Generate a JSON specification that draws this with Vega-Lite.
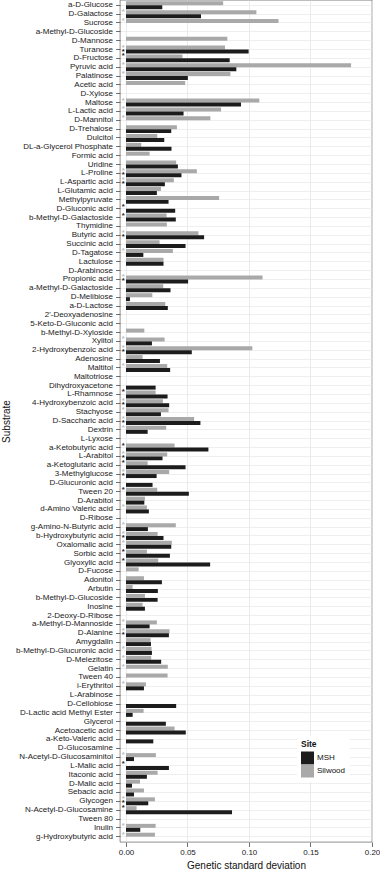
{
  "$schema": "https://vega.github.io/schema/vega-lite/v6.json",
  "width": 252,
  "height": 842,
  "autosize": {"type": "none"},
  "padding": {"left": 120, "top": 0, "right": 8, "bottom": 29},
  "background": "white",
  "config": {"view": {"stroke": "#444444", "strokeWidth": 0.6}, "font": "Liberation Sans"},
  "datasets": {
    "bars": [
      {"Substrate": "a-D-Glucose", "Site": "Silwood", "sd": 0.079},
      {"Substrate": "a-D-Glucose", "Site": "MSH", "sd": 0.0295},
      {"Substrate": "D-Galactose", "Site": "Silwood", "sd": 0.106},
      {"Substrate": "D-Galactose", "Site": "MSH", "sd": 0.061},
      {"Substrate": "Sucrose", "Site": "Silwood", "sd": 0.124},
      {"Substrate": "D-Mannose", "Site": "Silwood", "sd": 0.0824},
      {"Substrate": "Turanose", "Site": "Silwood", "sd": 0.0805},
      {"Substrate": "Turanose", "Site": "MSH", "sd": 0.0997},
      {"Substrate": "D-Fructose", "Site": "Silwood", "sd": 0.0459},
      {"Substrate": "D-Fructose", "Site": "MSH", "sd": 0.0843},
      {"Substrate": "Pyruvic acid", "Site": "Silwood", "sd": 0.183},
      {"Substrate": "Pyruvic acid", "Site": "MSH", "sd": 0.0897},
      {"Substrate": "Palatinose", "Site": "Silwood", "sd": 0.0849},
      {"Substrate": "Palatinose", "Site": "MSH", "sd": 0.0503},
      {"Substrate": "Acetic acid", "Site": "Silwood", "sd": 0.0481},
      {"Substrate": "Maltose", "Site": "Silwood", "sd": 0.1084},
      {"Substrate": "Maltose", "Site": "MSH", "sd": 0.0935},
      {"Substrate": "L-Lactic acid", "Site": "Silwood", "sd": 0.0773},
      {"Substrate": "L-Lactic acid", "Site": "MSH", "sd": 0.0468},
      {"Substrate": "D-Mannitol", "Site": "Silwood", "sd": 0.0686},
      {"Substrate": "D-Trehalose", "Site": "Silwood", "sd": 0.0414},
      {"Substrate": "D-Trehalose", "Site": "MSH", "sd": 0.0368},
      {"Substrate": "Dulcitol", "Site": "Silwood", "sd": 0.0254},
      {"Substrate": "Dulcitol", "Site": "MSH", "sd": 0.0311},
      {"Substrate": "DL-a-Glycerol Phosphate", "Site": "Silwood", "sd": 0.0124},
      {"Substrate": "DL-a-Glycerol Phosphate", "Site": "MSH", "sd": 0.037},
      {"Substrate": "Formic acid", "Site": "Silwood", "sd": 0.0192},
      {"Substrate": "Uridine", "Site": "Silwood", "sd": 0.0408},
      {"Substrate": "Uridine", "Site": "MSH", "sd": 0.0422},
      {"Substrate": "L-Proline", "Site": "Silwood", "sd": 0.0576},
      {"Substrate": "L-Proline", "Site": "MSH", "sd": 0.0451},
      {"Substrate": "L-Aspartic acid", "Site": "Silwood", "sd": 0.0389},
      {"Substrate": "L-Aspartic acid", "Site": "MSH", "sd": 0.0316},
      {"Substrate": "L-Glutamic acid", "Site": "Silwood", "sd": 0.0284},
      {"Substrate": "L-Glutamic acid", "Site": "MSH", "sd": 0.0251},
      {"Substrate": "Methylpyruvate", "Site": "Silwood", "sd": 0.0757},
      {"Substrate": "Methylpyruvate", "Site": "MSH", "sd": 0.0346},
      {"Substrate": "D-Gluconic acid", "Site": "MSH", "sd": 0.040},
      {"Substrate": "b-Methyl-D-Galactoside", "Site": "Silwood", "sd": 0.033},
      {"Substrate": "b-Methyl-D-Galactoside", "Site": "MSH", "sd": 0.0405},
      {"Substrate": "Thymidine", "Site": "Silwood", "sd": 0.0332},
      {"Substrate": "Butyric acid", "Site": "Silwood", "sd": 0.0589},
      {"Substrate": "Butyric acid", "Site": "MSH", "sd": 0.0635},
      {"Substrate": "Succinic acid", "Site": "Silwood", "sd": 0.0273},
      {"Substrate": "Succinic acid", "Site": "MSH", "sd": 0.0484},
      {"Substrate": "D-Tagatose", "Site": "Silwood", "sd": 0.0381},
      {"Substrate": "D-Tagatose", "Site": "MSH", "sd": 0.0141},
      {"Substrate": "Lactulose", "Site": "Silwood", "sd": 0.0305},
      {"Substrate": "Lactulose", "Site": "MSH", "sd": 0.0305},
      {"Substrate": "Propionic acid", "Site": "Silwood", "sd": 0.111},
      {"Substrate": "Propionic acid", "Site": "MSH", "sd": 0.0505},
      {"Substrate": "a-Methyl-D-Galactoside", "Site": "Silwood", "sd": 0.0303},
      {"Substrate": "a-Methyl-D-Galactoside", "Site": "MSH", "sd": 0.0362},
      {"Substrate": "D-Melibiose", "Site": "Silwood", "sd": 0.0214},
      {"Substrate": "D-Melibiose", "Site": "MSH", "sd": 0.0032},
      {"Substrate": "a-D-Lactose", "Site": "Silwood", "sd": 0.0319},
      {"Substrate": "a-D-Lactose", "Site": "MSH", "sd": 0.034},
      {"Substrate": "b-Methyl-D-Xyloside", "Site": "Silwood", "sd": 0.0149},
      {"Substrate": "Xylitol", "Site": "Silwood", "sd": 0.0314},
      {"Substrate": "Xylitol", "Site": "MSH", "sd": 0.0211},
      {"Substrate": "2-Hydroxybenzoic acid", "Site": "Silwood", "sd": 0.1027},
      {"Substrate": "2-Hydroxybenzoic acid", "Site": "MSH", "sd": 0.0535},
      {"Substrate": "Adenosine", "Site": "Silwood", "sd": 0.0135},
      {"Substrate": "Adenosine", "Site": "MSH", "sd": 0.0276},
      {"Substrate": "Maltitol", "Site": "Silwood", "sd": 0.0335},
      {"Substrate": "Maltitol", "Site": "MSH", "sd": 0.0359},
      {"Substrate": "Dihydroxyacetone", "Site": "MSH", "sd": 0.0241},
      {"Substrate": "L-Rhamnose", "Site": "Silwood", "sd": 0.0241},
      {"Substrate": "L-Rhamnose", "Site": "MSH", "sd": 0.0338},
      {"Substrate": "4-Hydroxybenzoic acid", "Site": "Silwood", "sd": 0.030},
      {"Substrate": "4-Hydroxybenzoic acid", "Site": "MSH", "sd": 0.0351},
      {"Substrate": "Stachyose", "Site": "Silwood", "sd": 0.0346},
      {"Substrate": "Stachyose", "Site": "MSH", "sd": 0.0284},
      {"Substrate": "D-Saccharic acid", "Site": "Silwood", "sd": 0.0554},
      {"Substrate": "D-Saccharic acid", "Site": "MSH", "sd": 0.0605},
      {"Substrate": "Dextrin", "Site": "Silwood", "sd": 0.0327},
      {"Substrate": "Dextrin", "Site": "MSH", "sd": 0.0176},
      {"Substrate": "a-Ketobutyric acid", "Site": "Silwood", "sd": 0.0395},
      {"Substrate": "a-Ketobutyric acid", "Site": "MSH", "sd": 0.067},
      {"Substrate": "L-Arabitol", "Site": "Silwood", "sd": 0.0335},
      {"Substrate": "L-Arabitol", "Site": "MSH", "sd": 0.0297},
      {"Substrate": "a-Ketoglutaric acid", "Site": "Silwood", "sd": 0.0176},
      {"Substrate": "a-Ketoglutaric acid", "Site": "MSH", "sd": 0.0484},
      {"Substrate": "3-Methylglucose", "Site": "Silwood", "sd": 0.0351},
      {"Substrate": "3-Methylglucose", "Site": "MSH", "sd": 0.0249},
      {"Substrate": "D-Glucuronic acid", "Site": "MSH", "sd": 0.0216},
      {"Substrate": "Tween 20", "Site": "Silwood", "sd": 0.0254},
      {"Substrate": "Tween 20", "Site": "MSH", "sd": 0.0511},
      {"Substrate": "D-Arabitol", "Site": "Silwood", "sd": 0.0154},
      {"Substrate": "D-Arabitol", "Site": "MSH", "sd": 0.0149},
      {"Substrate": "d-Amino Valeric acid", "Site": "Silwood", "sd": 0.017},
      {"Substrate": "d-Amino Valeric acid", "Site": "MSH", "sd": 0.0186},
      {"Substrate": "g-Amino-N-Butyric acid", "Site": "Silwood", "sd": 0.0405},
      {"Substrate": "g-Amino-N-Butyric acid", "Site": "MSH", "sd": 0.0178},
      {"Substrate": "b-Hydroxybutyric acid", "Site": "Silwood", "sd": 0.0257},
      {"Substrate": "b-Hydroxybutyric acid", "Site": "MSH", "sd": 0.0305},
      {"Substrate": "Oxalomalic acid", "Site": "Silwood", "sd": 0.0373},
      {"Substrate": "Oxalomalic acid", "Site": "MSH", "sd": 0.0368},
      {"Substrate": "Sorbic acid", "Site": "Silwood", "sd": 0.017},
      {"Substrate": "Sorbic acid", "Site": "MSH", "sd": 0.0357},
      {"Substrate": "Glyoxylic acid", "Site": "Silwood", "sd": 0.0262},
      {"Substrate": "Glyoxylic acid", "Site": "MSH", "sd": 0.0684},
      {"Substrate": "D-Fucose", "Site": "Silwood", "sd": 0.0103},
      {"Substrate": "Adonitol", "Site": "Silwood", "sd": 0.0146},
      {"Substrate": "Adonitol", "Site": "MSH", "sd": 0.0292},
      {"Substrate": "Arbutin", "Site": "Silwood", "sd": 0.0054},
      {"Substrate": "Arbutin", "Site": "MSH", "sd": 0.0259},
      {"Substrate": "b-Methyl-D-Glucoside", "Site": "Silwood", "sd": 0.0154},
      {"Substrate": "b-Methyl-D-Glucoside", "Site": "MSH", "sd": 0.0257},
      {"Substrate": "Inosine", "Site": "Silwood", "sd": 0.0135},
      {"Substrate": "Inosine", "Site": "MSH", "sd": 0.0154},
      {"Substrate": "a-Methyl-D-Mannoside", "Site": "Silwood", "sd": 0.0251},
      {"Substrate": "a-Methyl-D-Mannoside", "Site": "MSH", "sd": 0.0192},
      {"Substrate": "D-Alanine", "Site": "Silwood", "sd": 0.0354},
      {"Substrate": "D-Alanine", "Site": "MSH", "sd": 0.0349},
      {"Substrate": "Amygdalin", "Site": "Silwood", "sd": 0.020},
      {"Substrate": "Amygdalin", "Site": "MSH", "sd": 0.0203},
      {"Substrate": "b-Methyl-D-Glucuronic acid", "Site": "Silwood", "sd": 0.0208},
      {"Substrate": "b-Methyl-D-Glucuronic acid", "Site": "MSH", "sd": 0.0211},
      {"Substrate": "D-Melezitose", "Site": "Silwood", "sd": 0.0205},
      {"Substrate": "D-Melezitose", "Site": "MSH", "sd": 0.0286},
      {"Substrate": "Gelatin", "Site": "Silwood", "sd": 0.034},
      {"Substrate": "Tween 40", "Site": "Silwood", "sd": 0.0338},
      {"Substrate": "i-Erythritol", "Site": "Silwood", "sd": 0.0162},
      {"Substrate": "i-Erythritol", "Site": "MSH", "sd": 0.0146},
      {"Substrate": "D-Cellobiose", "Site": "MSH", "sd": 0.0408},
      {"Substrate": "D-Lactic acid Methyl Ester", "Site": "Silwood", "sd": 0.0143},
      {"Substrate": "D-Lactic acid Methyl Ester", "Site": "MSH", "sd": 0.0054},
      {"Substrate": "Glycerol", "Site": "MSH", "sd": 0.0324},
      {"Substrate": "Acetoacetic acid", "Site": "Silwood", "sd": 0.0395},
      {"Substrate": "Acetoacetic acid", "Site": "MSH", "sd": 0.0486},
      {"Substrate": "a-Keto-Valeric acid", "Site": "MSH", "sd": 0.0222},
      {"Substrate": "N-Acetyl-D-Glucosaminitol", "Site": "Silwood", "sd": 0.0243},
      {"Substrate": "N-Acetyl-D-Glucosaminitol", "Site": "MSH", "sd": 0.0065},
      {"Substrate": "L-Malic acid", "Site": "MSH", "sd": 0.0349},
      {"Substrate": "Itaconic acid", "Site": "Silwood", "sd": 0.0257},
      {"Substrate": "Itaconic acid", "Site": "MSH", "sd": 0.017},
      {"Substrate": "D-Malic acid", "Site": "Silwood", "sd": 0.0114},
      {"Substrate": "D-Malic acid", "Site": "MSH", "sd": 0.0049},
      {"Substrate": "Sebacic acid", "Site": "Silwood", "sd": 0.0146},
      {"Substrate": "Sebacic acid", "Site": "MSH", "sd": 0.0065},
      {"Substrate": "Glycogen", "Site": "Silwood", "sd": 0.0235},
      {"Substrate": "Glycogen", "Site": "MSH", "sd": 0.0181},
      {"Substrate": "N-Acetyl-D-Glucosamine", "Site": "Silwood", "sd": 0.0086},
      {"Substrate": "N-Acetyl-D-Glucosamine", "Site": "MSH", "sd": 0.0862},
      {"Substrate": "Inulin", "Site": "Silwood", "sd": 0.0241},
      {"Substrate": "Inulin", "Site": "MSH", "sd": 0.0116},
      {"Substrate": "g-Hydroxybutyric acid", "Site": "Silwood", "sd": 0.0235}
    ],
    "stars": [
      {"Substrate": "D-Galactose", "slot": "Silwood", "sig": "Silwood"},
      {"Substrate": "Sucrose", "slot": "Silwood", "sig": "Silwood"},
      {"Substrate": "Turanose", "slot": "Silwood", "sig": "Silwood"},
      {"Substrate": "Turanose", "slot": "MSH", "sig": "MSH"},
      {"Substrate": "D-Fructose", "slot": "Silwood", "sig": "MSH"},
      {"Substrate": "Pyruvic acid", "slot": "Silwood", "sig": "Silwood"},
      {"Substrate": "Palatinose", "slot": "Silwood", "sig": "Silwood"},
      {"Substrate": "Maltose", "slot": "Silwood", "sig": "Silwood"},
      {"Substrate": "L-Lactic acid", "slot": "Silwood", "sig": "Silwood"},
      {"Substrate": "D-Mannitol", "slot": "Silwood", "sig": "Silwood"},
      {"Substrate": "L-Proline", "slot": "Silwood", "sig": "Silwood"},
      {"Substrate": "L-Proline", "slot": "MSH", "sig": "MSH"},
      {"Substrate": "L-Aspartic acid", "slot": "Silwood", "sig": "Silwood"},
      {"Substrate": "L-Aspartic acid", "slot": "MSH", "sig": "MSH"},
      {"Substrate": "D-Gluconic acid", "slot": "Silwood", "sig": "MSH"},
      {"Substrate": "b-Methyl-D-Galactoside", "slot": "Silwood", "sig": "MSH"},
      {"Substrate": "Butyric acid", "slot": "Silwood", "sig": "Silwood"},
      {"Substrate": "Butyric acid", "slot": "MSH", "sig": "MSH"},
      {"Substrate": "D-Tagatose", "slot": "Silwood", "sig": "Silwood"},
      {"Substrate": "Propionic acid", "slot": "Silwood", "sig": "Silwood"},
      {"Substrate": "Propionic acid", "slot": "MSH", "sig": "MSH"},
      {"Substrate": "Xylitol", "slot": "Silwood", "sig": "Silwood"},
      {"Substrate": "2-Hydroxybenzoic acid", "slot": "Silwood", "sig": "Silwood"},
      {"Substrate": "2-Hydroxybenzoic acid", "slot": "MSH", "sig": "MSH"},
      {"Substrate": "Maltitol", "slot": "Silwood", "sig": "Silwood"},
      {"Substrate": "L-Rhamnose", "slot": "Silwood", "sig": "MSH"},
      {"Substrate": "4-Hydroxybenzoic acid", "slot": "Silwood", "sig": "Silwood"},
      {"Substrate": "4-Hydroxybenzoic acid", "slot": "MSH", "sig": "MSH"},
      {"Substrate": "Stachyose", "slot": "Silwood", "sig": "Silwood"},
      {"Substrate": "D-Saccharic acid", "slot": "Silwood", "sig": "Silwood"},
      {"Substrate": "D-Saccharic acid", "slot": "MSH", "sig": "MSH"},
      {"Substrate": "Dextrin", "slot": "Silwood", "sig": "Silwood"},
      {"Substrate": "a-Ketobutyric acid", "slot": "Silwood", "sig": "MSH"},
      {"Substrate": "L-Arabitol", "slot": "Silwood", "sig": "Silwood"},
      {"Substrate": "L-Arabitol", "slot": "MSH", "sig": "MSH"},
      {"Substrate": "a-Ketoglutaric acid", "slot": "Silwood", "sig": "MSH"},
      {"Substrate": "3-Methylglucose", "slot": "Silwood", "sig": "Silwood"},
      {"Substrate": "3-Methylglucose", "slot": "MSH", "sig": "MSH"},
      {"Substrate": "Tween 20", "slot": "Silwood", "sig": "MSH"},
      {"Substrate": "d-Amino Valeric acid", "slot": "Silwood", "sig": "Silwood"},
      {"Substrate": "g-Amino-N-Butyric acid", "slot": "Silwood", "sig": "Silwood"},
      {"Substrate": "b-Hydroxybutyric acid", "slot": "Silwood", "sig": "Silwood"},
      {"Substrate": "b-Hydroxybutyric acid", "slot": "MSH", "sig": "MSH"},
      {"Substrate": "Oxalomalic acid", "slot": "Silwood", "sig": "Silwood"},
      {"Substrate": "Sorbic acid", "slot": "Silwood", "sig": "MSH"},
      {"Substrate": "Glyoxylic acid", "slot": "Silwood", "sig": "MSH"},
      {"Substrate": "a-Methyl-D-Mannoside", "slot": "Silwood", "sig": "Silwood"},
      {"Substrate": "D-Alanine", "slot": "Silwood", "sig": "Silwood"},
      {"Substrate": "D-Alanine", "slot": "MSH", "sig": "MSH"},
      {"Substrate": "b-Methyl-D-Glucuronic acid", "slot": "Silwood", "sig": "Silwood"},
      {"Substrate": "D-Melezitose", "slot": "Silwood", "sig": "Silwood"},
      {"Substrate": "Gelatin", "slot": "Silwood", "sig": "Silwood"},
      {"Substrate": "i-Erythritol", "slot": "Silwood", "sig": "Silwood"},
      {"Substrate": "N-Acetyl-D-Glucosaminitol", "slot": "Silwood", "sig": "Silwood"},
      {"Substrate": "L-Malic acid", "slot": "Silwood", "sig": "MSH"},
      {"Substrate": "Glycogen", "slot": "Silwood", "sig": "Silwood"},
      {"Substrate": "Glycogen", "slot": "MSH", "sig": "MSH"},
      {"Substrate": "N-Acetyl-D-Glucosamine", "slot": "Silwood", "sig": "MSH"},
      {"Substrate": "Inulin", "slot": "Silwood", "sig": "Silwood"},
      {"Substrate": "g-Hydroxybutyric acid", "slot": "Silwood", "sig": "Silwood"}
    ]
  },
  "layer": [
    {
      "data": {"name": "bars"},
      "mark": {"type": "bar", "orient": "horizontal"},
      "encoding": {
        "y": {
          "field": "Substrate",
          "type": "nominal",
          "title": "Substrate",
          "scale": {
            "paddingInner": 0.1,
            "paddingOuter": 0.15,
            "domain": ["a-D-Glucose", "D-Galactose", "Sucrose", "a-Methyl-D-Glucoside", "D-Mannose", "Turanose", "D-Fructose", "Pyruvic acid", "Palatinose", "Acetic acid", "D-Xylose", "Maltose", "L-Lactic acid", "D-Mannitol", "D-Trehalose", "Dulcitol", "DL-a-Glycerol Phosphate", "Formic acid", "Uridine", "L-Proline", "L-Aspartic acid", "L-Glutamic acid", "Methylpyruvate", "D-Gluconic acid", "b-Methyl-D-Galactoside", "Thymidine", "Butyric acid", "Succinic acid", "D-Tagatose", "Lactulose", "D-Arabinose", "Propionic acid", "a-Methyl-D-Galactoside", "D-Melibiose", "a-D-Lactose", "2'-Deoxyadenosine", "5-Keto-D-Gluconic acid", "b-Methyl-D-Xyloside", "Xylitol", "2-Hydroxybenzoic acid", "Adenosine", "Maltitol", "Maltotriose", "Dihydroxyacetone", "L-Rhamnose", "4-Hydroxybenzoic acid", "Stachyose", "D-Saccharic acid", "Dextrin", "L-Lyxose", "a-Ketobutyric acid", "L-Arabitol", "a-Ketoglutaric acid", "3-Methylglucose", "D-Glucuronic acid", "Tween 20", "D-Arabitol", "d-Amino Valeric acid", "D-Ribose", "g-Amino-N-Butyric acid", "b-Hydroxybutyric acid", "Oxalomalic acid", "Sorbic acid", "Glyoxylic acid", "D-Fucose", "Adonitol", "Arbutin", "b-Methyl-D-Glucoside", "Inosine", "2-Deoxy-D-Ribose", "a-Methyl-D-Mannoside", "D-Alanine", "Amygdalin", "b-Methyl-D-Glucuronic acid", "D-Melezitose", "Gelatin", "Tween 40", "i-Erythritol", "L-Arabinose", "D-Cellobiose", "D-Lactic acid Methyl Ester", "Glycerol", "Acetoacetic acid", "a-Keto-Valeric acid", "D-Glucosamine", "N-Acetyl-D-Glucosaminitol", "L-Malic acid", "Itaconic acid", "D-Malic acid", "Sebacic acid", "Glycogen", "N-Acetyl-D-Glucosamine", "Tween 80", "Inulin", "g-Hydroxybutyric acid"]
          },
          "axis": {
            "titleFontSize": 10,
            "titleFontWeight": "normal",
            "titleColor": "#111111",
            "titlePadding": 4,
            "labelFontSize": 8,
            "labelColor": "#1a1a1a",
            "labelPadding": 3,
            "labelOverlap": false,
            "labelLimit": 200,
            "tickSize": 4.5,
            "tickColor": "#333333",
            "tickWidth": 0.7,
            "domain": false,
            "grid": true,
            "gridColor": "#e4e4e4",
            "gridWidth": 0.6
          }
        },
        "yOffset": {
          "field": "Site",
          "scale": {"domain": ["Silwood", "MSH"], "paddingInner": 0, "paddingOuter": 0}
        },
        "x": {
          "field": "sd",
          "type": "quantitative",
          "title": "Genetic standard deviation",
          "scale": {"domain": [-0.00487, 0.2], "nice": false, "zero": false},
          "axis": {
            "values": [0, 0.025, 0.05, 0.075, 0.1, 0.125, 0.15, 0.175, 0.2],
            "labelExpr": "round(datum.value*40) % 2 == 0 ? format(datum.value, '.2f') : ''",
            "labelFontSize": 8,
            "labelColor": "#1a1a1a",
            "labelPadding": 2,
            "labelFlush": false,
            "tickSize": 4.5,
            "tickColor": "#333333",
            "tickWidth": 0.7,
            "tickOpacity": {"condition": {"test": "round(datum.value*40) % 2 == 0", "value": 1}, "value": 0},
            "gridColor": {"condition": {"test": "round(datum.value*40) % 2 == 0", "value": "#e2e2e2"}, "value": "#efefef"},
            "gridWidth": {"condition": {"test": "round(datum.value*40) % 2 == 0", "value": 0.7}, "value": 0.5},
            "domain": false,
            "titleFontSize": 10,
            "titleFontWeight": "normal",
            "titleColor": "#111111",
            "titlePadding": 4
          }
        },
        "x2": {"datum": 0},
        "color": {
          "field": "Site",
          "type": "nominal",
          "scale": {"domain": ["MSH", "Silwood"], "range": ["#1c1c1c", "#a9a9a9"]},
          "legend": {
            "orient": "none",
            "legendX": 177,
            "legendY": 736,
            "title": "Site",
            "titleFontSize": 8.5,
            "titleFontWeight": "bold",
            "titleColor": "#111111",
            "titlePadding": 3,
            "labelFontSize": 8,
            "labelColor": "#111111",
            "labelOffset": 3,
            "symbolType": "square",
            "symbolSize": 169,
            "symbolStrokeWidth": 0,
            "symbolOpacity": 1,
            "rowPadding": 0,
            "fillColor": "white",
            "padding": 4
          }
        }
      }
    },
    {
      "data": {"name": "stars"},
      "mark": {"type": "text", "text": "*", "fontSize": 7.5, "baseline": "middle", "align": "center", "fontWeight": "bold"},
      "encoding": {
        "y": {"field": "Substrate", "type": "nominal"},
        "yOffset": {"field": "slot", "scale": {"domain": ["Silwood", "MSH"]}},
        "x": {"datum": -0.0022, "type": "quantitative"},
        "color": {
          "field": "sig",
          "type": "nominal",
          "scale": {"domain": ["MSH", "Silwood"], "range": ["#1c1c1c", "#bcbcbc"]},
          "legend": null
        }
      }
    }
  ],
  "resolve": {"scale": {"color": "independent"}}
}
